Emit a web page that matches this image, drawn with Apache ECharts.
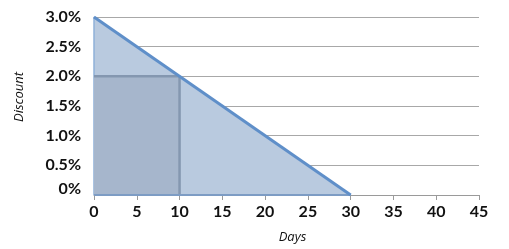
<!DOCTYPE html>
<html>
<head>
<meta charset="utf-8">
<script src="https://cdn.jsdelivr.net/npm/echarts@6/dist/echarts.min.js"></script>
<style>html,body{margin:0;padding:0;background:#fff;}#c{width:509px;height:249px;}</style>
</head>
<body>
<div id="c"></div>
<script>
// Days and discount rate (%) of the discount window
const discountDays = [0, 0, 30];
const discountRates = [0, 3.0, 0];
// Cutoff point: 2.0% discount at day 10
const cutoffDays = [0, 10, 10];
const cutoffRates = [2.0, 2.0, 0];
// Baseline
const baseDays = [0, 30];
const baseRates = [0, 0];
const xTicks = [0, 5, 10, 15, 20, 25, 30, 35, 40, 45];
const yTicks = [0, 0.5, 1.0, 1.5, 2.0, 2.5, 3.0];

const zip = (a, b) => a.map((v, i) => [v, b[i]]);
const chart = echarts.init(document.getElementById('c'));
const labelFont = {fontFamily: 'Lato', fontWeight: 'bold', fontSize: 16, color: '#111'};
chart.setOption({
  animation: false,
  grid: {left: 94, right: 30, top: 17, bottom: 54},
  xAxis: {
    type: 'value', min: xTicks[0], max: xTicks[xTicks.length - 1], interval: 5,
    name: 'Days', nameLocation: 'middle', nameGap: 36,
    nameTextStyle: {fontFamily: 'Open Sans', fontStyle: 'italic', fontSize: 13, color: '#111', padding: [0, 0, 0, 12]},
    axisLine: {lineStyle: {color: '#9a9a9a', width: 1}},
    axisTick: {show: true, length: 5, lineStyle: {color: '#9a9a9a'}},
    splitLine: {show: false},
    axisLabel: Object.assign({margin: 9}, labelFont)
  },
  yAxis: {
    type: 'value', min: yTicks[0], max: yTicks[yTicks.length - 1], interval: 0.5,
    name: 'Discount', nameLocation: 'middle', nameGap: 68, nameRotate: 90,
    nameTextStyle: {fontFamily: 'Open Sans', fontStyle: 'italic', fontSize: 13, color: '#111', padding: [0, 0, 0, 18]},
    axisLine: {show: false},
    axisTick: {show: false},
    splitLine: {lineStyle: {color: '#a8a8a8', width: 1}},
    axisLabel: Object.assign({
      margin: 13,
      formatter: v => v === 0 ? '{z|0%}' : v.toFixed(1) + '%',
      rich: {z: Object.assign({padding: [0, 0, 12, 0]}, labelFont)}
    }, labelFont)
  },
  series: [
    {
      type: 'line', data: zip(discountDays, discountRates), symbol: 'none', z: 2,
      lineStyle: {color: '#8fb0d8', width: 1.5},
      areaStyle: {color: '#b9cadf', opacity: 1}
    },
    {
      type: 'line', data: zip(cutoffDays, cutoffRates), symbol: 'none', z: 3,
      lineStyle: {color: '#8497b0', width: 2.5},
      areaStyle: {color: '#a6b6cc', opacity: 1}
    },
    {
      type: 'line', data: zip(baseDays, baseRates), symbol: 'none', z: 4,
      lineStyle: {color: '#7d9cc4', width: 2}
    },
    {
      type: 'line', data: zip(discountDays.slice(1), discountRates.slice(1)), symbol: 'none', z: 5,
      lineStyle: {color: '#5f8fc9', width: 3}
    }
  ]
});
</script>
</body>
</html>
